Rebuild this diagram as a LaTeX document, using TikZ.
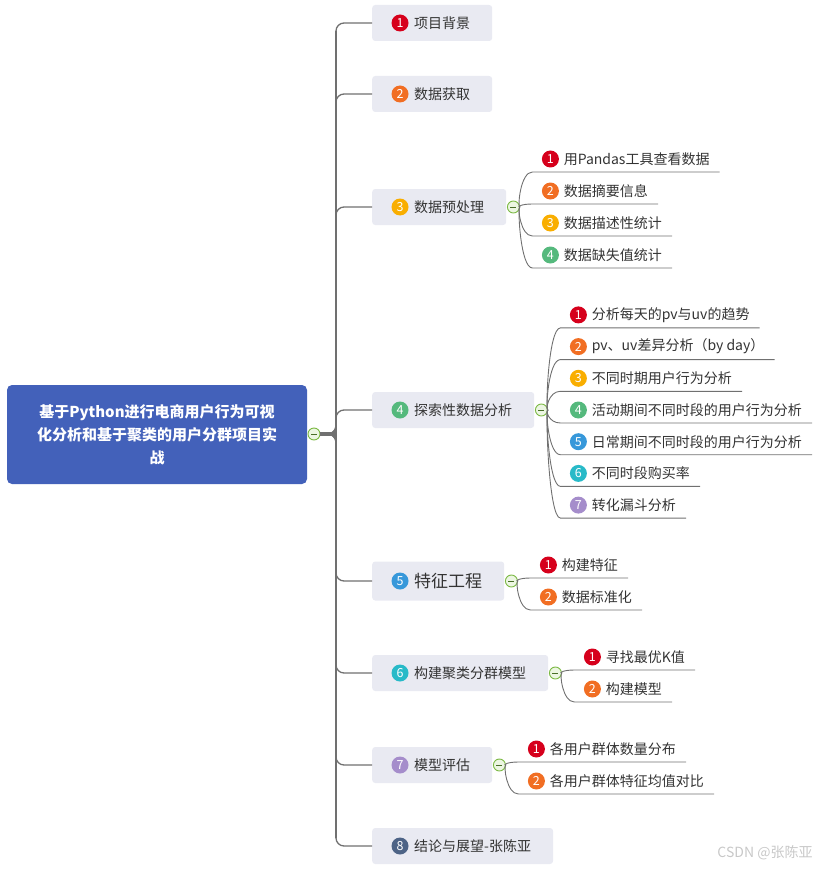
\documentclass[tikz,border=0pt]{standalone}
\usepackage{fontspec}
\setmainfont{Noto Sans CJK SC}
\usetikzlibrary{positioning,calc}
\definecolor{c1}{RGB}{214,0,28}
\definecolor{c2}{RGB}{241,110,35}
\definecolor{c3}{RGB}{249,174,0}
\definecolor{c4}{RGB}{85,185,125}
\definecolor{c5}{RGB}{55,152,218}
\definecolor{c6}{RGB}{40,186,200}
\definecolor{c7}{RGB}{165,141,203}
\definecolor{c8}{RGB}{77,99,134}
\definecolor{rootbg}{RGB}{67,97,186}
\definecolor{topicbg}{RGB}{233,234,242}
\definecolor{lnk}{RGB}{112,112,112}
\definecolor{txt}{RGB}{51,51,51}
\definecolor{foldg}{RGB}{122,184,66}
\definecolor{foldbg}{RGB}{236,246,226}
\definecolor{wm}{RGB}{200,200,200}
\begin{document}
\begin{tikzpicture}[x=1pt,y=-1pt,
  every node/.style={font=\fontsize{14}{17}\selectfont,text=txt},
  topic/.style={anchor=west,fill=topicbg,rounded corners=3pt,minimum height=36pt,inner xsep=22pt,inner ysep=0pt},
  ico/.style={circle,fill=#1,text=white,inner sep=0pt,minimum size=17pt,font=\fontsize{12.5}{12.5}\selectfont},
  sub/.style={inner sep=0pt},
  fold/.style={circle,draw=foldg,fill=foldbg,line width=0.9pt,minimum size=12pt,inner sep=0pt,
    path picture={\draw[foldg!60!black,line width=0.9pt] ([xshift=3pt]path picture bounding box.west) -- ([xshift=-3pt]path picture bounding box.east);}},
  branch/.style={draw=lnk,line width=1.3pt,rounded corners=8pt},
  twig/.style={draw=lnk,line width=0.9pt}]
\useasboundingbox (0,0) rectangle (826,869);
% root
\node[fill=rootbg,rounded corners=5pt,minimum width=300pt,minimum height=99pt,align=center,text=white,
  font=\fontsize{15}{23}\selectfont\bfseries] (root) at (157,434.5)
  {基于Python进行电商用户行为可视\\化分析和基于聚类的用户分群项目实\\战};
\node[fold] (kr) at (314,434) {};
\coordinate (j) at (336,434);
% main topics
\node[topic] (t1) at (372,23) {\hspace*{20pt}项目背景};
\node[topic] (t2) at (372,94) {\hspace*{20pt}数据获取};
\node[topic] (t3) at (372,207) {\hspace*{20pt}数据预处理};
\node[topic] (t4) at (372,410) {\hspace*{20pt}探索性数据分析};
\node[topic,minimum height=39pt,font=\fontsize{17}{20}\selectfont] (t5) at (372,581) {\hspace*{20pt}特征工程};
\node[topic] (t6) at (372,673) {\hspace*{20pt}构建聚类分群模型};
\node[topic] (t7) at (372,765) {\hspace*{20pt}模型评估};
\node[topic] (t8) at (372,846) {\hspace*{20pt}结论与展望-张陈亚};
\foreach \c [count=\i] in {c1,c2,c3,c4,c5,c6,c7,c8}
  \node[ico=\c] (i\i) at ([xshift=28pt]t\i.west) {\i};
\foreach \i in {1,...,8}
  \draw[branch] (kr) -- (j) |- (t\i.west);
\draw[lnk,line width=2.2pt] ($(j |- t1.west)+(0,8)$) -- ($(j |- t8.west)+(0,-8)$);
\draw[lnk,line width=4pt] (kr) -- (j);
\foreach \t in {3,4,5,6,7}
  \node[fold] (k\t) at ([xshift=7pt]t\t.east) {};
% 3 数据预处理
\foreach \s/\c [count=\i] in {用Pandas工具查看数据/c1,数据摘要信息/c2,数据描述性统计/c3,数据缺失值统计/c4}{
  \node[ico=\c] (a\i) at ($(k3)+(37,{32*(\i-2.5)})$) {\i};
  \node[sub,right=4.5pt of a\i] (at\i) {\s};
  \draw[twig] (k3) .. controls +(4,0) and +(-12,0) .. ($(a\i)+(-18,13)$) -- ($(at\i.east)+(10,13)$);
}
% 4 探索性数据分析
\foreach \s/\c [count=\i] in {分析每天的pv与uv的趋势/c1,pv、uv差异分析（by day）/c2,不同时期用户行为分析/c3,
    活动期间不同时段的用户行为分析/c4,日常期间不同时段的用户行为分析/c5,不同时段购买率/c6,转化漏斗分析/c7}{
  \node[ico=\c] (b\i) at ($(k4)+(37,{31.7*(\i-4)})$) {\i};
  \node[sub,right=4.5pt of b\i] (bt\i) {\s};
  \draw[twig] (k4) .. controls +(4,0) and +(-12,0) .. ($(b\i)+(-18,13)$) -- ($(bt\i.east)+(10,13)$);
}
% 5 特征工程
\foreach \s/\c [count=\i] in {构建特征/c1,数据标准化/c2}{
  \node[ico=\c] (e\i) at ($(k5)+(37,{32*(\i-1.5)})$) {\i};
  \node[sub,right=4.5pt of e\i] (et\i) {\s};
  \draw[twig] (k5) .. controls +(4,0) and +(-12,0) .. ($(e\i)+(-18,13)$) -- ($(et\i.east)+(10,13)$);
}
% 6 构建聚类分群模型
\foreach \s/\c [count=\i] in {寻找最优K值/c1,构建模型/c2}{
  \node[ico=\c] (m\i) at ($(k6)+(37,{32*(\i-1.5)})$) {\i};
  \node[sub,right=4.5pt of m\i] (mt\i) {\s};
  \draw[twig] (k6) .. controls +(4,0) and +(-12,0) .. ($(m\i)+(-18,13)$) -- ($(mt\i.east)+(10,13)$);
}
% 7 模型评估
\foreach \s/\c [count=\i] in {各用户群体数量分布/c1,各用户群体特征均值对比/c2}{
  \node[ico=\c] (v\i) at ($(k7)+(37,{32*(\i-1.5)})$) {\i};
  \node[sub,right=4.5pt of v\i] (vt\i) {\s};
  \draw[twig] (k7) .. controls +(4,0) and +(-12,0) .. ($(v\i)+(-18,13)$) -- ($(vt\i.east)+(10,13)$);
}
\node[text=wm,font=\fontsize{14}{14}\selectfont] (mark) at (765,853) {CSDN @张陈亚};
\end{tikzpicture}
\end{document}
